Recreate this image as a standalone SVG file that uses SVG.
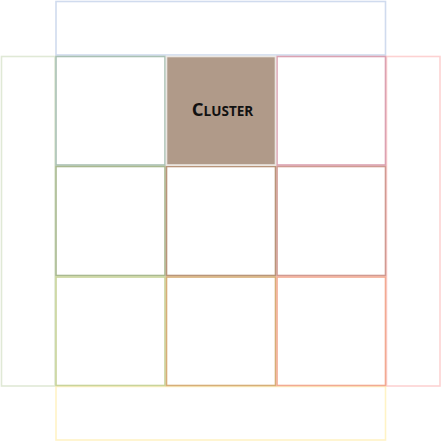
<svg xmlns="http://www.w3.org/2000/svg" width="441" height="441" viewBox="0 0 441 441">
<style>
rect{fill:none;stroke-width:1.6}
.lbl{font-family:"Open Sans","Noto Sans",sans-serif;font-weight:bold;fill:#111}
</style>
<rect width="441" height="441" fill="#fff" style="stroke:none"/>
<g id="bar-top"><rect x="56" y="1.5" width="329.5" height="53.5" stroke="#d0dbee"/></g>
<g id="bar-left"><rect x="1.5" y="56.5" width="53.5" height="329.5" stroke="#e0e9d6"/></g>
<g id="bar-right"><rect x="386.5" y="56.5" width="53.5" height="329.5" stroke="#fdd2d2"/></g>
<g id="bar-bottom"><rect x="56" y="386.5" width="329.5" height="53.5" stroke="#fff3c6"/></g>
<g id="cell-r1c1"><rect x="56" y="56.5" width="109" height="108.5" stroke="#aac1b4"/></g>
<g id="cell-r1c3"><rect x="277" y="56.5" width="108.5" height="108.5" stroke="#dba2b2"/></g>
<g id="cell-r2c1"><rect x="56" y="166.5" width="109" height="109" stroke="#a9b990"/></g>
<g id="cell-r2c2"><rect x="166.5" y="166.5" width="109" height="109" stroke="#b8957a"/></g>
<g id="cell-r2c3"><rect x="277" y="166.5" width="108.5" height="109" stroke="#d09a92"/></g>
<g id="cell-r3c1"><rect x="56" y="277" width="109" height="108.5" stroke="#c9d49a"/></g>
<g id="cell-r3c2"><rect x="166.5" y="277" width="109" height="108.5" stroke="#d6ae78"/></g>
<g id="cell-r3c3"><rect x="277" y="277" width="108.5" height="108.5" stroke="#f2aa92"/></g>
<g id="cluster">
<rect x="166.5" y="56.5" width="109" height="108.5" fill="#b09a89" stroke="#ebe6e2" style="fill:#b09a89"/>
<text class="lbl" x="222.5" y="116" text-anchor="middle"><tspan font-size="18.5">C</tspan><tspan font-size="13.5">LUSTER</tspan></text>
</g>
<g id="connectors"/>
</svg>
